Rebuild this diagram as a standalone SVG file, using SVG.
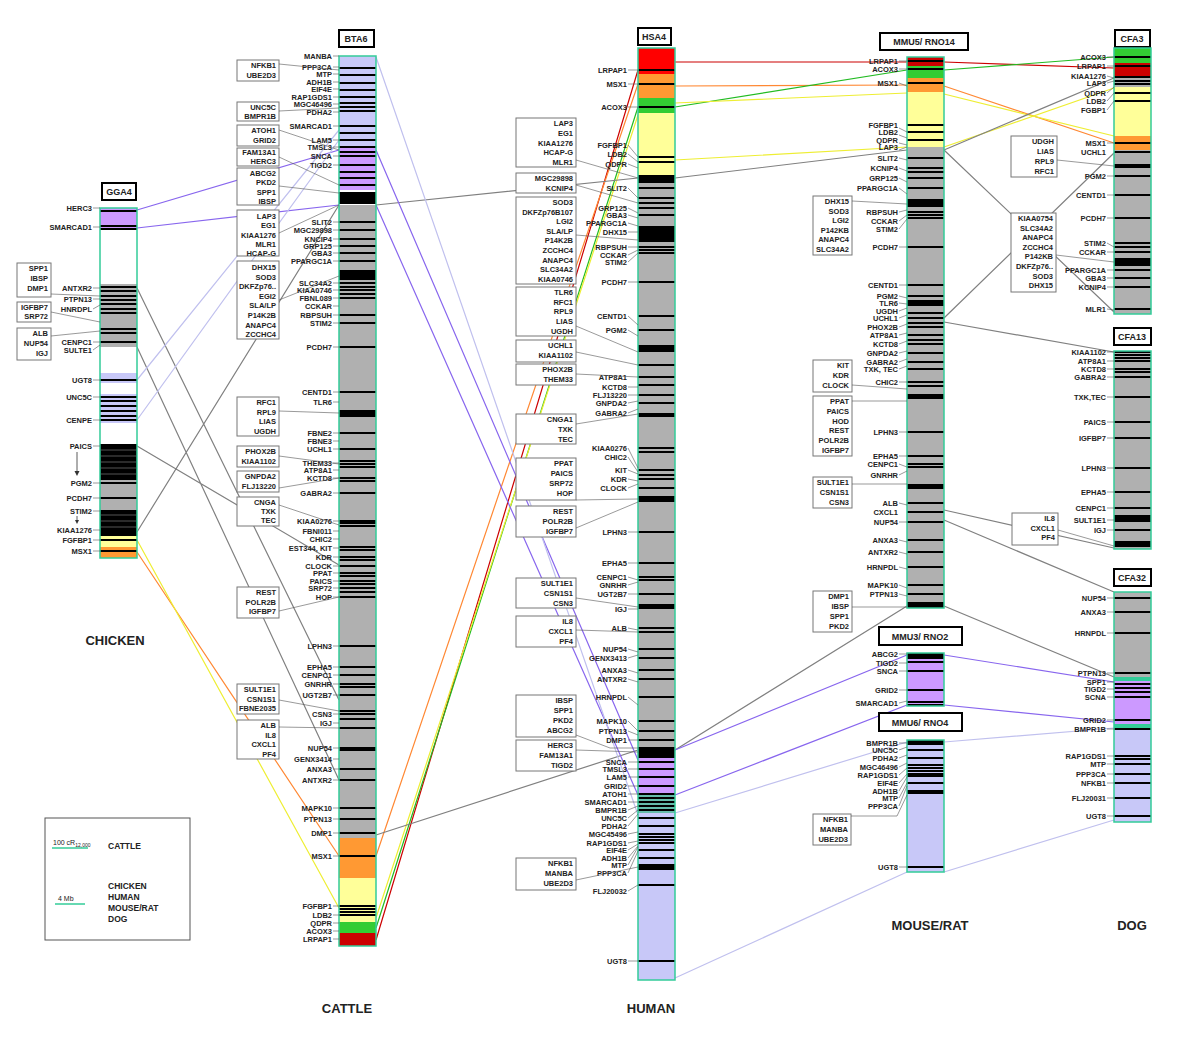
<svg xmlns="http://www.w3.org/2000/svg" width="1200" height="1041" viewBox="0 0 1200 1041">
<style>
text{font-family:"Liberation Sans",Arial,sans-serif;font-weight:bold;fill:#222}
.l{font-size:7.5px;text-anchor:end}
.t{font-size:9px;text-anchor:middle}
.sp{font-size:13px;text-anchor:middle}
.box{fill:#fff;stroke:#777;stroke-width:1}
.tb{fill:#fff;stroke:#000;stroke-width:2}
.out{fill:none;stroke:#3c9;stroke-width:1.5}
.band{stroke:#000;stroke-width:2.2;fill:none}
.tick{stroke:#555;stroke-width:0.6;fill:none}
.lav{fill:#c8c8f8}.pur{fill:#cc99ff}.gry{fill:#b0b0b0}.yel{fill:#ffff99}.org{fill:#ff9933}.grn{fill:#33cc33}.red{fill:#cc0000}.wht{fill:#fff}.blk{fill:#000}
.c{fill:none;stroke-width:1.2}
</style>
<g id="connectors">
<path class="c" stroke="#cc0000" d="M638,70 L376,940 M675,62 L907,62 M944,62 L1114,68"/>
<path class="c" stroke="#ff8833" d="M638,84 L376,856 M137,552 L339,856 M675,86 L907,85 M944,86 L1114,143"/>
<path class="c" stroke="#22bb22" d="M638,107 L376,928 M675,107 L907,70 M944,70 L1114,57"/>
<path class="c" stroke="#eeee33" d="M137,540 L339,908 M638,115 L376,918 M675,103 L907,93 M675,160 L907,147 M944,94 L1114,136 M944,147 L1114,88"/>
<path class="c" stroke="#808080" d="M137,288 L339,700 M137,347 L339,780 M137,446 L339,565 M137,532 L339,205 M376,205 L638,178 M376,835 L638,750 M675,750 L907,606 M675,178 L907,150 M944,150 L1114,312 M944,318 L1114,153 M944,322 L1114,352 M944,510 L1114,548 M944,520 L1114,592 M944,606 L1114,677 M944,150 L1114,78"/>
<path class="c" stroke="#8866ee" d="M137,210 L339,150 M137,228 L339,205 M376,150 L638,760 M376,205 L638,795 M675,750 L907,655 M675,795 L907,705 M944,655 L1114,682 M944,705 L1114,722"/>
<path class="c" stroke="#c0c0ee" d="M376,57 L638,815 M137,380 L339,130 M137,420 L339,140 M675,813 L907,742 M944,742 L1114,728 M675,978 L907,872 M944,872 L1114,820"/>
</g>

<g id="GGA4">
<rect class="tb" x="102" y="183" width="34" height="17"/><text class="t" x="119" y="195">GGA4</text>
<rect class="pur" x="100" y="208" width="37" height="20"/><rect class="wht" x="100" y="228" width="37" height="56"/>
<rect class="gry" x="100" y="284" width="37" height="63"/><rect class="wht" x="100" y="347" width="37" height="26"/>
<rect class="lav" x="100" y="373" width="37" height="10"/><rect class="wht" x="100" y="383" width="37" height="11"/>
<rect class="lav" x="100" y="394" width="37" height="29"/><rect class="wht" x="100" y="423" width="37" height="21"/>
<rect class="blk" x="100" y="444" width="37" height="36"/><rect class="gry" x="100" y="480" width="37" height="30"/>
<rect class="blk" x="100" y="510" width="37" height="26"/><rect class="yel" x="100" y="536" width="37" height="11"/><rect class="org" x="100" y="547" width="37" height="11"/>
<path class="band" d="M100 211h37M100 226h37M100 229h37M100 287h37M100 291h37M100 296h37M100 300h37M100 304h37M100 309h37M100 313h37M100 329h37M100 333h37M100 342h37M100 380h37M100 397h37M100 401h37M100 406h37M100 411h37M100 416h37M100 420h37M100 483h37M100 498h37M100 540h37M100 551h37"/>
<path d="M101 450h35M101 456h35M101 462h35M101 468h35M101 474h35M101 515h35M101 521h35M101 527h35" stroke="#555" stroke-width="1"/>
<rect class="out" x="100" y="208" width="37" height="350"/>
<g class="l"><text x="92" y="211">HERC3</text><text x="92" y="230">SMARCAD1</text><text x="92" y="291">ANTXR2</text><text x="92" y="302">PTPN13</text><text x="92" y="312">HNRDPL</text><text x="92" y="345">CENPC1</text><text x="92" y="353">SULTE1</text><text x="92" y="383">UGT8</text><text x="92" y="400">UNC5C</text><text x="92" y="423">CENPE</text><text x="92" y="449">PAICS</text><text x="92" y="486">PGM2</text><text x="92" y="501">PCDH7</text><text x="92" y="514">STIM2</text><text x="92" y="533">KIAA1276</text><text x="92" y="543">FGFBP1</text><text x="92" y="554">MSX1</text></g>
<path class="tick" d="M93 208h7M93 227h7M93 288h7M93 299h7M93 309l7-4M93 342h7M93 350l7-5M93 380h7M93 397h7M93 420h7M93 446h7M93 483h7M93 498h7M93 511h7M93 530h7M93 540h7M93 551h7"/>
<path d="M77 452V474M77 516V522" stroke="#333" stroke-width="0.8"/><path d="M74.5 471L77 476L79.5 471ZM75 520L77 524L79 520Z" fill="#333"/>
<rect class="box" x="17" y="263" width="34" height="34"/><text class="l" x="48" y="271"><tspan x="48">SPP1</tspan><tspan x="48" dy="10">IBSP</tspan><tspan x="48" dy="10">DMP1</tspan></text>
<rect class="box" x="17" y="302" width="34" height="20"/><text class="l" x="48" y="310"><tspan x="48">IGFBP7</tspan><tspan x="48" dy="9">SRP72</tspan></text>
<rect class="box" x="17" y="328" width="34" height="32"/><text class="l" x="48" y="336"><tspan x="48">ALB</tspan><tspan x="48" dy="10">NUP54</tspan><tspan x="48" dy="10">IGJ</tspan></text>
<path class="tick" d="M51 294L100 296M51 312L100 322M51 336L100 331"/>
<text class="sp" x="115" y="645">CHICKEN</text>
</g>

<g id="BTA6">
<rect class="tb" x="339" y="30" width="35" height="17"/><text class="t" x="356" y="42">BTA6</text>
<rect class="lav" x="339" y="56" width="37" height="92"/><rect class="pur" x="339" y="148" width="37" height="42"/>
<rect class="blk" x="339" y="192" width="37" height="12"/><rect class="gry" x="339" y="205" width="37" height="633"/>
<rect class="org" x="339" y="838" width="37" height="40"/><rect class="yel" x="339" y="878" width="37" height="44"/>
<rect class="grn" x="339" y="922" width="37" height="11"/><rect class="red" x="339" y="933" width="37" height="13"/>
<rect class="blk" x="339" y="270" width="37" height="10"/><rect class="blk" x="339" y="410" width="37" height="7"/>
<path class="band" d="M339 68h37M339 75h37M339 83h37M339 90h37M339 97h37M339 103h37M339 107h37M339 111h37M339 126h37M339 133h37M339 140h37M339 147h37M339 152h37M339 156h37M339 165h37M339 172h37M339 178h37M339 185h37M339 222h37M339 230h37M339 239h37M339 246h37M339 253h37M339 261h37M339 283h37M339 287h37M339 290h37M339 294h37M339 298h37M339 315h37M339 323h37M339 347h37M339 392h37M339 433h37M339 449h37M339 461h37M339 464h37M339 467h37M339 478h37M339 481h37M339 493h37M339 521h37M339 523h37M339 526h37M339 547h37M339 550h37M339 557h37M339 560h37M339 566h37M339 573h37M339 576h37M339 581h37M339 584h37M339 588h37M339 592h37M339 597h37M339 646h37M339 667h37M339 675h37M339 684h37M339 687h37M339 695h37M339 711h37M339 714h37M339 719h37M339 728h37M339 748h37M339 750h37M339 769h37M339 780h37M339 808h37M339 819h37M339 833h37M339 856h37M339 906h37M339 909h37M339 912h37M339 915h37"/>
<rect class="out" x="339" y="56" width="37" height="890"/>
<g class="l"><text x="332" y="59">MANBA</text><text x="332" y="70">PPP3CA</text><text x="332" y="77">MTP</text><text x="332" y="85">ADH1B</text><text x="332" y="92">EIF4E</text><text x="332" y="99.5">RAP1GDS1</text><text x="332" y="107">MGC46496</text><text x="332" y="115">PDHA2</text><text x="332" y="129">SMARCAD1</text><text x="332" y="143">LAM5</text><text x="332" y="150">TMSL3</text><text x="332" y="159">SNCA</text><text x="332" y="168">TIGD2</text><text x="332" y="225">SLIT2</text><text x="332" y="233">MGC29898</text><text x="332" y="242">KNCIP4</text><text x="332" y="249">GRP125</text><text x="332" y="256">GBA3</text><text x="332" y="264">PPARGC1A</text><text x="332" y="286">SLC34A2</text><text x="332" y="293">KIAA0746</text><text x="332" y="301">FBNL089</text><text x="332" y="309">CCKAR</text><text x="332" y="318">RBPSUH</text><text x="332" y="326">STIM2</text><text x="332" y="350">PCDH7</text><text x="332" y="395">CENTD1</text><text x="332" y="405">TLR6</text><text x="332" y="436">FBNE2</text><text x="332" y="444">FBNE3</text><text x="332" y="452">UCHL1</text><text x="332" y="466">THEM33</text><text x="332" y="473">ATP8A1</text><text x="332" y="481">KCTD8</text><text x="332" y="496">GABRA2</text><text x="332" y="524">KIAA0276</text><text x="332" y="534">FBNI011</text><text x="332" y="542">CHIC2</text><text x="332" y="551">EST344, KIT</text><text x="332" y="560">KDR</text><text x="332" y="569">CLOCK</text><text x="332" y="576">PPAT</text><text x="332" y="584">PAICS</text><text x="332" y="591">SRP72</text><text x="332" y="600">HOP</text><text x="332" y="649">LPHN3</text><text x="332" y="670">EPHA5</text><text x="332" y="678">CENPC1</text><text x="332" y="687">GNRHR</text><text x="332" y="698">UGT2B7</text><text x="332" y="717">CSN3</text><text x="332" y="726">IGJ</text><text x="332" y="751">NUP54</text><text x="332" y="762">GENX3414</text><text x="332" y="772">ANXA3</text><text x="332" y="783">ANTXR2</text><text x="332" y="811">MAPK10</text><text x="332" y="822">PTPN13</text><text x="332" y="836">DMP1</text><text x="332" y="859">MSX1</text><text x="332" y="909">FGFBP1</text><text x="332" y="918">LDB2</text><text x="332" y="926">QDPR</text><text x="332" y="934">ACOX3</text><text x="332" y="942">LRPAP1</text></g>
<path class="tick" d="M333 56h6M333 67h6M333 74h6M333 82h6M333 89h6M333 97h6M333 104h6M333 112h6M333 126h6M333 140h6M333 147h6M333 156h6M333 165h6M333 222h6M333 230h6M333 239h6M333 246h6M333 253h6M333 261h6M333 283h6M333 290h6M333 298h6M333 306h6M333 315h6M333 323h6M333 347h6M333 392h6M333 402h6M333 433h6M333 441h6M333 449h6M333 463h6M333 470h6M333 478h6M333 493h6M333 521h6M333 531h6M333 539h6M333 548h6M333 557h6M333 566h6M333 573h6M333 581h6M333 588h6M333 597h6M333 646h6M333 667h6M333 675h6M333 684h6M333 695h6M333 714h6M333 723h6M333 748h6M333 759h6M333 769h6M333 780h6M333 808h6M333 819h6M333 833h6M333 856h6M333 906h6M333 915h6M333 923h6M333 931h6M333 939h6"/>
<g>
<rect class="box" x="237" y="60" width="42" height="21"/><text class="l" x="276" y="68"><tspan x="276">NFKB1</tspan><tspan x="276" dy="10">UBE2D3</tspan></text>
<rect class="box" x="237" y="102" width="42" height="19"/><text class="l" x="276" y="110"><tspan x="276">UNC5C</tspan><tspan x="276" dy="9">BMPR1B</tspan></text>
<rect class="box" x="237" y="125" width="42" height="21"/><text class="l" x="276" y="133"><tspan x="276">ATOH1</tspan><tspan x="276" dy="10">GRID2</tspan></text>
<rect class="box" x="237" y="148" width="42" height="18"/><text class="l" x="276" y="155"><tspan x="276">FAM13A1</tspan><tspan x="276" dy="9">HERC3</tspan></text>
<rect class="box" x="237" y="168" width="42" height="37"/><text class="l" x="276" y="176"><tspan x="276">ABCG2</tspan><tspan x="276" dy="9.3">PKD2</tspan><tspan x="276" dy="9.3">SPP1</tspan><tspan x="276" dy="9.3">IBSP</tspan></text>
<rect class="box" x="237" y="210" width="42" height="46"/><text class="l" x="276" y="219"><tspan x="276">LAP3</tspan><tspan x="276" dy="9.3">EG1</tspan><tspan x="276" dy="9.3">KIAA1276</tspan><tspan x="276" dy="9.3">MLR1</tspan><tspan x="276" dy="9.3">HCAP-G</tspan></text>
<rect class="box" x="237" y="261" width="42" height="78"/><text class="l" x="276" y="270"><tspan x="276">DHX15</tspan><tspan x="276" dy="9.6">SOD3</tspan><tspan x="276" dy="9.6">DKFZp76..</tspan><tspan x="276" dy="9.6">EGI2</tspan><tspan x="276" dy="9.6">SLA/LP</tspan><tspan x="276" dy="9.6">P14K2B</tspan><tspan x="276" dy="9.6">ANAPC4</tspan><tspan x="276" dy="9.6">ZCCHC4</tspan></text>
<rect class="box" x="237" y="397" width="42" height="39"/><text class="l" x="276" y="405"><tspan x="276">RFC1</tspan><tspan x="276" dy="9.5">RPL9</tspan><tspan x="276" dy="9.5">LIAS</tspan><tspan x="276" dy="9.5">UGDH</tspan></text>
<rect class="box" x="237" y="446" width="42" height="21"/><text class="l" x="276" y="454"><tspan x="276">PHOX2B</tspan><tspan x="276" dy="10">KIAA1102</tspan></text>
<rect class="box" x="237" y="471" width="42" height="21"/><text class="l" x="276" y="479"><tspan x="276">GNPDA2</tspan><tspan x="276" dy="10">FLJ13220</tspan></text>
<rect class="box" x="237" y="497" width="42" height="29"/><text class="l" x="276" y="505"><tspan x="276">CNGA</tspan><tspan x="276" dy="9">TXK</tspan><tspan x="276" dy="9">TEC</tspan></text>
<rect class="box" x="237" y="587" width="42" height="31"/><text class="l" x="276" y="595"><tspan x="276">REST</tspan><tspan x="276" dy="9.5">POLR2B</tspan><tspan x="276" dy="9.5">IGFBP7</tspan></text>
<rect class="box" x="237" y="684" width="42" height="30"/><text class="l" x="276" y="692"><tspan x="276">SULT1E1</tspan><tspan x="276" dy="9.5">CSN1S1</tspan><tspan x="276" dy="9.5">FBNE2035</tspan></text>
<rect class="box" x="237" y="720" width="42" height="39"/><text class="l" x="276" y="728"><tspan x="276">ALB</tspan><tspan x="276" dy="9.5">IL8</tspan><tspan x="276" dy="9.5">CXCL1</tspan><tspan x="276" dy="9.5">PF4</tspan></text>
</g>
<path class="tick" d="M279 64L339 70M279 111L339 108M279 130L339 150M279 157L339 185M279 186L339 193M279 233L339 205M279 300L339 276M279 411L339 413M279 456L339 464M279 488L339 478M279 505L339 525M279 611L339 597M279 700L339 711M279 727L339 728"/>
<text class="sp" x="347" y="1013">CATTLE</text>
</g>

<g id="HSA4">
<rect class="tb" x="638" y="28" width="33" height="17"/><text class="t" x="654" y="40">HSA4</text>
<rect fill="#ff0000" x="638" y="48" width="37" height="26"/><rect class="org" x="638" y="74" width="37" height="24"/>
<rect class="grn" x="638" y="98" width="37" height="15"/><rect class="yel" x="638" y="113" width="37" height="62"/>
<rect class="gry" x="638" y="175" width="37" height="572"/><rect class="blk" x="638" y="747" width="37" height="11"/>
<rect class="pur" x="638" y="758" width="37" height="37"/><rect fill="#66bbaa" x="638" y="795" width="37" height="18"/>
<rect class="lav" x="638" y="813" width="37" height="167"/>
<rect class="blk" x="638" y="175" width="37" height="8"/><rect class="blk" x="638" y="226" width="37" height="16"/><rect class="blk" x="638" y="345" width="37" height="7"/><rect class="blk" x="638" y="413" width="37" height="4"/><rect class="blk" x="638" y="496" width="37" height="6"/><rect class="blk" x="638" y="604" width="37" height="5"/><rect class="blk" x="638" y="864" width="37" height="6"/>
<path class="band" d="M638 70h37M638 84h37M638 107h37M638 157h37M638 162h37M638 188h37M638 198h37M638 203h37M638 208h37M638 215h37M638 247h37M638 250h37M638 253h37M638 282h37M638 316h37M638 330h37M638 365h37M638 377h37M638 385h37M638 395h37M638 403h37M638 448h37M638 452h37M638 470h37M638 475h37M638 479h37M638 488h37M638 532h37M638 563h37M638 577h37M638 580h37M638 594h37M638 628h37M638 632h37M638 649h37M638 658h37M638 670h37M638 679h37M638 697h37M638 721h37M638 731h37M638 740h37M638 762h37M638 769h37M638 777h37M638 786h37M638 794h37M638 798h37M638 802h37M638 806h37M638 810h37M638 818h37M638 826h37M638 834h37M638 837h37M638 840h37M638 843h37M638 850h37M638 858h37M638 885h37M638 961h37"/>
<rect class="out" x="638" y="48" width="37" height="932"/>
<g class="l"><text x="627" y="73">LRPAP1</text><text x="627" y="87">MSX1</text><text x="627" y="110">ACOX3</text><text x="627" y="148">FGFBP1</text><text x="627" y="157">LDB2</text><text x="627" y="167">QDPR</text><text x="627" y="191">SLIT2</text><text x="627" y="211">GRP125</text><text x="627" y="218">GBA3</text><text x="627" y="226">PPARGC1A</text><text x="627" y="235">DHX15</text><text x="627" y="250">RBPSUH</text><text x="627" y="258">CCKAR</text><text x="627" y="265">STIM2</text><text x="627" y="285">PCDH7</text><text x="627" y="319">CENTD1</text><text x="627" y="333">PGM2</text><text x="627" y="380">ATP8A1</text><text x="627" y="390">KCTD8</text><text x="627" y="398">FLJ13220</text><text x="627" y="406">GNPDA2</text><text x="627" y="416">GABRA2</text><text x="627" y="451">KIAA0276</text><text x="627" y="460">CHIC2</text><text x="627" y="473">KIT</text><text x="627" y="482">KDR</text><text x="627" y="491">CLOCK</text><text x="627" y="535">LPHN3</text><text x="627" y="566">EPHA5</text><text x="627" y="580">CENPC1</text><text x="627" y="588">GNRHR</text><text x="627" y="597">UGT2B7</text><text x="627" y="612">IGJ</text><text x="627" y="631">ALB</text><text x="627" y="652">NUP54</text><text x="627" y="661">GENX3413</text><text x="627" y="673">ANXA3</text><text x="627" y="682">ANTXR2</text><text x="627" y="700">HRNPDL</text><text x="627" y="724">MAPK10</text><text x="627" y="734">PTPN13</text><text x="627" y="743">DMP1</text><text x="627" y="765">SNCA</text><text x="627" y="772">TMSL3</text><text x="627" y="780">LAM5</text><text x="627" y="789">GRID2</text><text x="627" y="797">ATOH1</text><text x="627" y="805">SMARCAD1</text><text x="627" y="813">BMPR1B</text><text x="627" y="821">UNC5C</text><text x="627" y="829">PDHA2</text><text x="627" y="837">MGC45496</text><text x="627" y="846">RAP1GDS1</text><text x="627" y="853">EIF4E</text><text x="627" y="861">ADH1B</text><text x="627" y="868">MTP</text><text x="627" y="876">PPP3CA</text><text x="627" y="894">FLJ20032</text><text x="627" y="964">UGT8</text></g>
<path class="tick" d="M628 70h10M628 84h10M628 107h10M628 145l10 12M628 154l10 8M628 164l10 4M628 188l10 10M628 208l10 5M628 215l10 3M628 223l10 3M628 232h10M628 247h10M628 255l10-5M628 262l10-9M628 282h10M628 316l10 9M628 330l10 6M628 387h10M628 395h10M628 403l10-2M628 413l10-4M628 448l10 20M628 457l10 15M628 470l10 4M628 479l10 2M628 488l10-4M628 532h10M628 563h10M628 577l10 3M628 585l10-3M628 594h10M628 609h10M628 628l10 2M628 649l10 3M628 658l10-3M628 670l10 3M628 679l10 3M628 697l10 8M628 721l10 10M628 731l10 4M628 740h10M628 762h10M628 769h10M628 777h10M628 786h10M628 794h10M628 802h10M628 810l10-4M628 818l10-8M628 826l10-12M628 834l10-2M628 843l10-2M628 850l10-6M628 858l10-12M628 865l10-18M628 873l10-22M628 891l10-6M628 961h10"/>
<g>
<rect class="box" x="516" y="118" width="60" height="49"/><text class="l" x="573" y="126"><tspan x="573">LAP3</tspan><tspan x="573" dy="9.8">EG1</tspan><tspan x="573" dy="9.8">KIAA1276</tspan><tspan x="573" dy="9.8">HCAP-G</tspan><tspan x="573" dy="9.8">MLR1</tspan></text>
<rect class="box" x="516" y="173" width="60" height="20"/><text class="l" x="573" y="181"><tspan x="573">MGC29898</tspan><tspan x="573" dy="9.5">KCNIP4</tspan></text>
<rect class="box" x="516" y="197" width="60" height="87"/><text class="l" x="573" y="205"><tspan x="573">SOD3</tspan><tspan x="573" dy="9.6">DKFZp76B107</tspan><tspan x="573" dy="9.6">LGI2</tspan><tspan x="573" dy="9.6">SLA/LP</tspan><tspan x="573" dy="9.6">P14K2B</tspan><tspan x="573" dy="9.6">ZCCHC4</tspan><tspan x="573" dy="9.6">ANAPC4</tspan><tspan x="573" dy="9.6">SLC34A2</tspan><tspan x="573" dy="9.6">KIAA0746</tspan></text>
<rect class="box" x="516" y="287" width="60" height="49"/><text class="l" x="573" y="295"><tspan x="573">TLR6</tspan><tspan x="573" dy="9.7">RFC1</tspan><tspan x="573" dy="9.7">RPL9</tspan><tspan x="573" dy="9.7">LIAS</tspan><tspan x="573" dy="9.7">UGDH</tspan></text>
<rect class="box" x="516" y="340" width="60" height="22"/><text class="l" x="573" y="348"><tspan x="573">UCHL1</tspan><tspan x="573" dy="10">KIAA1102</tspan></text>
<rect class="box" x="516" y="364" width="60" height="21"/><text class="l" x="573" y="372"><tspan x="573">PHOX2B</tspan><tspan x="573" dy="10">THEM33</tspan></text>
<rect class="box" x="516" y="414" width="60" height="30"/><text class="l" x="573" y="422"><tspan x="573">CNGA1</tspan><tspan x="573" dy="10">TXK</tspan><tspan x="573" dy="10">TEC</tspan></text>
<rect class="box" x="516" y="458" width="60" height="42"/><text class="l" x="573" y="466"><tspan x="573">PPAT</tspan><tspan x="573" dy="10">PAICS</tspan><tspan x="573" dy="10">SRP72</tspan><tspan x="573" dy="10">HOP</tspan></text>
<rect class="box" x="516" y="506" width="60" height="31"/><text class="l" x="573" y="514"><tspan x="573">REST</tspan><tspan x="573" dy="10">POLR2B</tspan><tspan x="573" dy="10">IGFBP7</tspan></text>
<rect class="box" x="516" y="578" width="60" height="30"/><text class="l" x="573" y="586"><tspan x="573">SULT1E1</tspan><tspan x="573" dy="10">CSN1S1</tspan><tspan x="573" dy="10">CSN3</tspan></text>
<rect class="box" x="516" y="616" width="60" height="31"/><text class="l" x="573" y="624"><tspan x="573">IL8</tspan><tspan x="573" dy="10">CXCL1</tspan><tspan x="573" dy="10">PF4</tspan></text>
<rect class="box" x="516" y="695" width="60" height="42"/><text class="l" x="573" y="703"><tspan x="573">IBSP</tspan><tspan x="573" dy="10">SPP1</tspan><tspan x="573" dy="10">PKD2</tspan><tspan x="573" dy="10">ABCG2</tspan></text>
<rect class="box" x="516" y="740" width="60" height="31"/><text class="l" x="573" y="748"><tspan x="573">HERC3</tspan><tspan x="573" dy="10">FAM13A1</tspan><tspan x="573" dy="10">TIGD2</tspan></text>
<rect class="box" x="516" y="858" width="60" height="32"/><text class="l" x="573" y="866"><tspan x="573">NFKB1</tspan><tspan x="573" dy="10">MANBA</tspan><tspan x="573" dy="10">UBE2D3</tspan></text>
</g>
<path class="tick" d="M576 160L638 178M576 185L638 203M576 235L638 240M576 326L638 352M576 352L638 365M576 374L638 377M576 424L638 414M576 500L638 499M576 528L638 502M576 598L638 607M576 630L638 632M576 735L610 748L638 748M576 750L638 752M576 880L638 867"/>
<text class="sp" x="651" y="1013">HUMAN</text>
</g>

<g id="MMU5_RNO14">
<rect class="tb" x="880" y="33" width="88" height="17"/><text class="t" x="924" y="45">MMU5/ RNO14</text>
<rect class="red" x="907" y="57" width="37" height="9"/><rect class="grn" x="907" y="66" width="37" height="12"/><rect class="org" x="907" y="78" width="37" height="14"/>
<rect class="yel" x="907" y="92" width="37" height="55"/><rect class="gry" x="907" y="147" width="37" height="461"/>
<rect class="blk" x="907" y="199" width="37" height="8"/><rect class="blk" x="907" y="300" width="37" height="6"/><rect class="blk" x="907" y="394" width="37" height="5"/><rect class="blk" x="907" y="484" width="37" height="5"/><rect class="blk" x="907" y="602" width="37" height="6"/>
<path class="band" d="M907 61h37M907 69h37M907 83h37M907 125h37M907 132h37M907 140h37M907 158h37M907 168h37M907 172h37M907 178h37M907 188h37M907 212h37M907 215h37M907 218h37M907 247h37M907 285h37M907 296h37M907 313h37M907 318h37M907 323h37M907 327h37M907 335h37M907 340h37M907 344h37M907 353h37M907 362h37M907 369h37M907 382h37M907 386h37M907 432h37M907 456h37M907 464h37M907 467h37M907 503h37M907 512h37M907 522h37M907 540h37M907 552h37M907 567h37M907 585h37M907 594h37"/>
<rect class="out" x="907" y="57" width="37" height="551"/>
<g class="l"><text x="898" y="64">LRPAP1</text><text x="898" y="72">ACOX3</text><text x="898" y="86">MSX1</text><text x="898" y="128">FGFBP1</text><text x="898" y="135">LDB2</text><text x="898" y="143">QDPR</text><text x="898" y="150">LAP3</text><text x="898" y="161">SLIT2</text><text x="898" y="171">KCNIP4</text><text x="898" y="181">GRP125</text><text x="898" y="191">PPARGC1A</text><text x="898" y="215">RBPSUH</text><text x="898" y="224">CCKAR</text><text x="898" y="232">STIM2</text><text x="898" y="250">PCDH7</text><text x="898" y="288">CENTD1</text><text x="898" y="299">PGM2</text><text x="898" y="306">TLR6</text><text x="898" y="314">UGDH</text><text x="898" y="321">UCHL1</text><text x="898" y="330">PHOX2B</text><text x="898" y="338">ATP8A1</text><text x="898" y="347">KCTD8</text><text x="898" y="356">GNPDA2</text><text x="898" y="365">GABRA2</text><text x="898" y="372">TXK, TEC</text><text x="898" y="385">CHIC2</text><text x="898" y="435">LPHN3</text><text x="898" y="459">EPHA5</text><text x="898" y="467">CENPC1</text><text x="898" y="478">GNRHR</text><text x="898" y="506">ALB</text><text x="898" y="515">CXCL1</text><text x="898" y="525">NUP54</text><text x="898" y="543">ANXA3</text><text x="898" y="555">ANTXR2</text><text x="898" y="570">HRNPDL</text><text x="898" y="588">MAPK10</text><text x="898" y="597">PTPN13</text></g>
<path class="tick" d="M899 61h8M899 69h8M899 83l8 3M899 128l8 4M899 135l8 3M899 143l8 2M899 150l8-3M899 158l8 2M899 168l8 3M899 178l8 4M899 188l8 6M899 212l8-2M899 221l8-6M899 229l8-10M899 247h8M899 285h8M899 296l8 2M899 303l8 1M899 311l8-3M899 318l8-3M899 327l8-3M899 335l8-2M899 344l8-3M899 353l8-2M899 362l8-3M899 369l8-3M899 382h8M899 432h8M899 456h8M899 464l8 3M899 475l8-4M899 503l8 2M899 522h8M899 540l8 2M899 552l8 2M899 567l8 2M899 585l8 3M899 594l8 2"/>
<rect class="box" x="813" y="196" width="39" height="59"/><text class="l" x="849" y="204"><tspan x="849">DHX15</tspan><tspan x="849" dy="9.6">SOD3</tspan><tspan x="849" dy="9.6">LGI2</tspan><tspan x="849" dy="9.6">P142KB</tspan><tspan x="849" dy="9.6">ANAPC4</tspan><tspan x="849" dy="9.6">SLC34A2</tspan></text>
<rect class="box" x="813" y="360" width="39" height="32"/><text class="l" x="849" y="368"><tspan x="849">KIT</tspan><tspan x="849" dy="10">KDR</tspan><tspan x="849" dy="10">CLOCK</tspan></text>
<rect class="box" x="813" y="396" width="39" height="60"/><text class="l" x="849" y="404"><tspan x="849">PPAT</tspan><tspan x="849" dy="9.8">PAICS</tspan><tspan x="849" dy="9.8">HOD</tspan><tspan x="849" dy="9.8">REST</tspan><tspan x="849" dy="9.8">POLR2B</tspan><tspan x="849" dy="9.8">IGFBP7</tspan></text>
<rect class="box" x="813" y="477" width="39" height="31"/><text class="l" x="849" y="485"><tspan x="849">SULT1E1</tspan><tspan x="849" dy="10">CSN1S1</tspan><tspan x="849" dy="10">CSN3</tspan></text>
<rect class="box" x="813" y="591" width="39" height="41"/><text class="l" x="849" y="599"><tspan x="849">DMP1</tspan><tspan x="849" dy="10">IBSP</tspan><tspan x="849" dy="10">SPP1</tspan><tspan x="849" dy="10">PKD2</tspan></text>
<path class="tick" d="M852 201L907 204M852 385L907 389M852 401L907 401M852 484L907 484M852 607L907 607"/>
<text class="sp" x="930" y="930">MOUSE/RAT</text>
</g>

<g id="MMU3_RNO2">
<rect class="tb" x="879" y="627" width="83" height="18"/><text class="t" x="920" y="640">MMU3/ RNO2</text>
<rect class="pur" x="907" y="653" width="37" height="53"/><rect class="blk" x="907" y="653" width="37" height="6"/>
<path class="band" d="M907 662h37M907 671h37M907 690h37M907 702h37M907 705h37"/>
<rect class="out" x="907" y="653" width="37" height="53"/>
<g class="l"><text x="898" y="657">ABCG2</text><text x="898" y="666">TIGD2</text><text x="898" y="674">SNCA</text><text x="898" y="693">GRID2</text><text x="898" y="706">SMARCAD1</text></g>
<path class="tick" d="M899 654h8M899 663h8M899 671h8M899 690h8M899 703l8-2"/>
</g>

<g id="MMU6_RNO4">
<rect class="tb" x="879" y="713" width="83" height="18"/><text class="t" x="920" y="726">MMU6/ RNO4</text>
<rect class="lav" x="907" y="740" width="37" height="132"/><rect class="blk" x="907" y="740" width="37" height="5"/><rect class="blk" x="907" y="773" width="37" height="4"/><rect class="blk" x="907" y="790" width="37" height="4"/>
<path class="band" d="M907 750h37M907 758h37M907 765h37M907 768h37M907 771h37M907 783h37M907 867h37"/>
<rect class="out" x="907" y="740" width="37" height="132"/>
<g class="l"><text x="898" y="746">BMPR1B</text><text x="898" y="753">UNC5C</text><text x="898" y="761">PDHA2</text><text x="898" y="770">MGC46496</text><text x="898" y="778">RAP1GDS1</text><text x="898" y="786">EIF4E</text><text x="898" y="794">ADH1B</text><text x="898" y="801">MTP</text><text x="898" y="809">PPP3CA</text><text x="898" y="870">UGT8</text></g>
<path class="tick" d="M899 743h8M899 750l8-3M899 758l8-3M899 767l8-4M899 775l8-7M899 783l8-9M899 791l8-14M899 798l8-15M899 806l8-20M899 867h8"/>
<rect class="box" x="813" y="814" width="38" height="31"/><text class="l" x="848" y="822"><tspan x="848">NFKB1</tspan><tspan x="848" dy="10">MANBA</tspan><tspan x="848" dy="10">UBE2D3</tspan></text>
<path class="tick" d="M851 816L897 816L907 795"/>
</g>

<g id="CFA3">
<rect class="tb" x="1115" y="30" width="35" height="17"/><text class="t" x="1132" y="42">CFA3</text>
<rect class="grn" x="1114" y="48" width="37" height="15"/><rect class="red" x="1114" y="63" width="37" height="14"/><rect class="gry" x="1114" y="77" width="37" height="10"/>
<rect class="yel" x="1114" y="87" width="37" height="49"/><rect class="org" x="1114" y="136" width="37" height="14"/><rect class="gry" x="1114" y="150" width="37" height="164"/>
<rect class="blk" x="1114" y="164" width="37" height="4"/><rect class="blk" x="1114" y="258" width="37" height="8"/>
<path class="band" d="M1114 57h37M1114 66h37M1114 77h37M1114 81h37M1114 84h37M1114 93h37M1114 101h37M1114 143h37M1114 152h37M1114 176h37M1114 195h37M1114 218h37M1114 243h37M1114 247h37M1114 252h37M1114 270h37M1114 278h37M1114 287h37M1114 309h37"/>
<rect class="out" x="1114" y="48" width="37" height="266"/>
<g class="l"><text x="1106" y="60">ACOX3</text><text x="1106" y="69">LRPAP1</text><text x="1106" y="79">KIAA1276</text><text x="1106" y="86">LAP3</text><text x="1106" y="96">QDPR</text><text x="1106" y="104">LDB2</text><text x="1106" y="113">FGBP1</text><text x="1106" y="146">MSX1</text><text x="1106" y="155">UCHL1</text><text x="1106" y="179">PGM2</text><text x="1106" y="198">CENTD1</text><text x="1106" y="221">PCDH7</text><text x="1106" y="246">STIM2</text><text x="1106" y="255">CCKAR</text><text x="1106" y="273">PPARGC1A</text><text x="1106" y="281">GBA3</text><text x="1106" y="290">KCNIP4</text><text x="1106" y="312">MLR1</text></g>
<path class="tick" d="M1107 57h7M1107 66h7M1107 76l7 2M1107 83l7-2M1107 93l7-6M1107 101l7-8M1107 110l7-9M1107 143h7M1107 176h7M1107 195h7M1107 218h7M1107 243l7 4M1107 252h7M1107 270h7M1107 278h7M1107 287h7M1107 309l7 1"/>
<rect class="box" x="1011" y="136" width="46" height="41"/><text class="l" x="1054" y="144"><tspan x="1054">UDGH</tspan><tspan x="1054" dy="10">LIAS</tspan><tspan x="1054" dy="10">RPL9</tspan><tspan x="1054" dy="10">RFC1</tspan></text>
<rect class="box" x="1011" y="213" width="45" height="79"/><text class="l" x="1053" y="221"><tspan x="1053">KIAA0754</tspan><tspan x="1053" dy="9.6">SLC34A2</tspan><tspan x="1053" dy="9.6">ANAPC4</tspan><tspan x="1053" dy="9.6">ZCCHC4</tspan><tspan x="1053" dy="9.6">P142KB</tspan><tspan x="1053" dy="9.6">DKFZp76..</tspan><tspan x="1053" dy="9.6">SOD3</tspan><tspan x="1053" dy="9.6">DHX15</tspan></text>
<path class="tick" d="M1057 160L1114 166M1056 255L1114 262"/>
<text class="sp" x="1132" y="930">DOG</text>
</g>

<g id="CFA13">
<rect class="tb" x="1114" y="328" width="37" height="17"/><text class="t" x="1132" y="340">CFA13</text>
<rect class="gry" x="1114" y="351" width="37" height="198"/><rect class="blk" x="1114" y="515" width="37" height="7"/><rect class="blk" x="1114" y="541" width="37" height="6"/>
<path class="band" d="M1114 352h37M1114 355h37M1114 358h37M1114 361h37M1114 369h37M1114 372h37M1114 377h37M1114 397h37M1114 422h37M1114 438h37M1114 468h37M1114 492h37M1114 508h37M1114 530h37"/>
<rect class="out" x="1114" y="351" width="37" height="198"/>
<g class="l"><text x="1106" y="355">KIAA1102</text><text x="1106" y="364">ATP8A1</text><text x="1106" y="372">KCTD8</text><text x="1106" y="380">GABRA2</text><text x="1106" y="400">TXK,TEC</text><text x="1106" y="425">PAICS</text><text x="1106" y="441">IGFBP7</text><text x="1106" y="471">LPHN3</text><text x="1106" y="495">EPHA5</text><text x="1106" y="511">CENPC1</text><text x="1106" y="523">SULT1E1</text><text x="1106" y="533">IGJ</text></g>
<path class="tick" d="M1107 352h7M1107 361h7M1107 369h7M1107 377h7M1107 397h7M1107 422h7M1107 438h7M1107 468h7M1107 492h7M1107 508h7M1107 520h7M1107 530h7"/>
<rect class="box" x="1012" y="513" width="46" height="32"/><text class="l" x="1055" y="521"><tspan x="1055">IL8</tspan><tspan x="1055" dy="9.5">CXCL1</tspan><tspan x="1055" dy="9.5">PF4</tspan></text>
<path class="tick" d="M1058 530L1114 546"/>
</g>

<g id="CFA32">
<rect class="tb" x="1114" y="569" width="37" height="17"/><text class="t" x="1132" y="581">CFA32</text>
<rect class="gry" x="1114" y="592" width="37" height="85"/><rect fill="#33cc99" x="1114" y="677" width="37" height="4"/>
<rect class="pur" x="1114" y="681" width="37" height="43"/><rect fill="#33cc99" x="1114" y="724" width="37" height="4"/><rect class="lav" x="1114" y="728" width="37" height="94"/>
<path class="band" d="M1114 598h37M1114 612h37M1114 633h37M1114 673h37M1114 684h37M1114 688h37M1114 692h37M1114 697h37M1114 720h37M1114 729h37M1114 756h37M1114 759h37M1114 764h37M1114 774h37M1114 783h37M1114 798h37M1114 816h37"/>
<rect class="out" x="1114" y="592" width="37" height="230"/>
<g class="l"><text x="1106" y="601">NUP54</text><text x="1106" y="615">ANXA3</text><text x="1106" y="636">HRNPDL</text><text x="1106" y="676">PTPN13</text><text x="1106" y="685">SPP1</text><text x="1106" y="692">TIGD2</text><text x="1106" y="700">SCNA</text><text x="1106" y="723">GRID2</text><text x="1106" y="732">BMPR1B</text><text x="1106" y="759">RAP1GDS1</text><text x="1106" y="767">MTP</text><text x="1106" y="777">PPP3CA</text><text x="1106" y="786">NFKB1</text><text x="1106" y="801">FLJ20031</text><text x="1106" y="819">UGT8</text></g>
<path class="tick" d="M1107 598h7M1107 612h7M1107 633h7M1107 673h7M1107 682h7M1107 689h7M1107 697h7M1107 720h7M1107 729h7M1107 756h7M1107 764h7M1107 774h7M1107 783h7M1107 798h7M1107 816h7"/>
</g>

<g id="legend">
<rect x="45" y="818" width="145" height="122" fill="#fff" stroke="#555" stroke-width="1"/>
<line x1="52" y1="848" x2="88" y2="848" stroke="#3c9" stroke-width="1.5"/>
<text x="53" y="845" style="font-size:7px;font-weight:normal">100 cR<tspan style="font-size:5px" dy="2">12,000</tspan></text>
<text x="108" y="849" style="font-size:8.5px">CATTLE</text>
<line x1="55" y1="904" x2="85" y2="904" stroke="#3c9" stroke-width="1.5"/>
<text x="58" y="901" style="font-size:7px;font-weight:normal">4 Mb</text>
<text x="108" y="889" style="font-size:8.5px"><tspan x="108">CHICKEN</tspan><tspan x="108" dy="11">HUMAN</tspan><tspan x="108" dy="11">MOUSE/RAT</tspan><tspan x="108" dy="11">DOG</tspan></text>
</g>
</svg>
